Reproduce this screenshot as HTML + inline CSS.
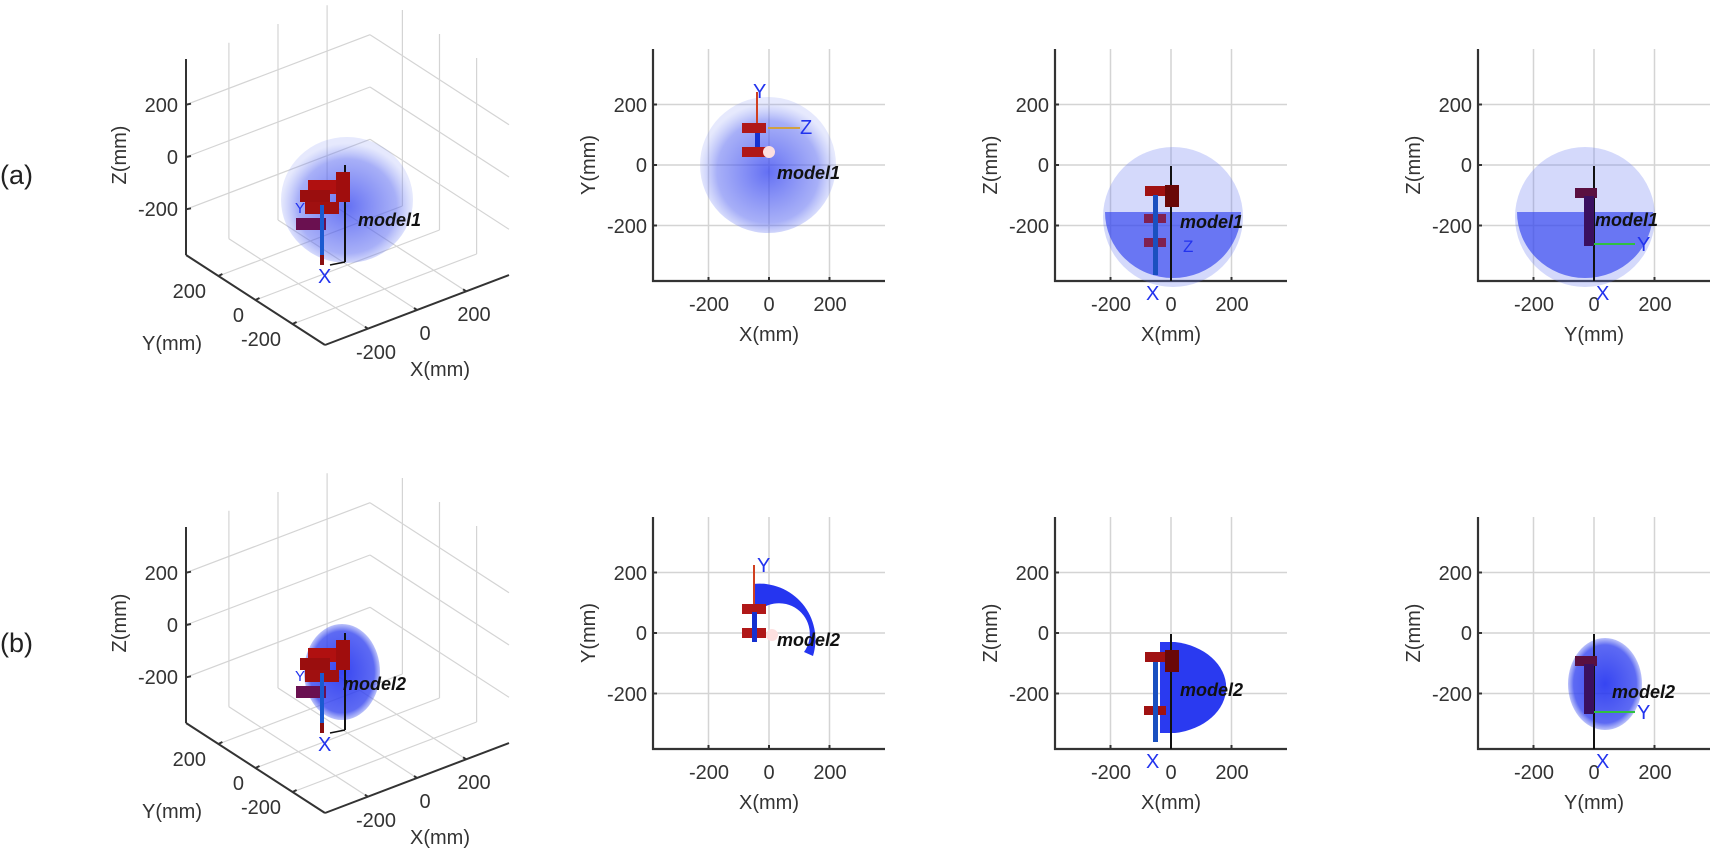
<!DOCTYPE html>
<html><head><meta charset="utf-8"><style>
html,body{margin:0;padding:0;background:#fff;}
svg{display:block;font-family:"Liberation Sans",Arial,sans-serif;}
</style></head><body>
<svg id="s" width="1711" height="855" viewBox="0 0 1711 855" xmlns="http://www.w3.org/2000/svg">
<defs>
<radialGradient id="ga" cx="50%" cy="55%" r="50%"><stop offset="0" stop-color="#3040f0" stop-opacity="0.75"/><stop offset="0.75" stop-color="#5060f0" stop-opacity="0.5"/><stop offset="1" stop-color="#8090f5" stop-opacity="0.2"/></radialGradient>
<radialGradient id="gb" cx="50%" cy="50%" r="50%"><stop offset="0" stop-color="#2030f0" stop-opacity="0.9"/><stop offset="0.85" stop-color="#3545f0" stop-opacity="0.8"/><stop offset="1" stop-color="#5565f0" stop-opacity="0.4"/></radialGradient>
</defs>
<text x="0" y="184" font-size="27" fill="#222">(a)</text>
<text x="0" y="652" font-size="27" fill="#222">(b)</text>
<g id="g"></g>
</svg>
<script>
var out='';
function L(x1,y1,x2,y2,c,w){out+='<line x1="'+x1.toFixed(1)+'" y1="'+y1.toFixed(1)+'" x2="'+x2.toFixed(1)+'" y2="'+y2.toFixed(1)+'" stroke="'+c+'" stroke-width="'+w+'"/>';}
function T(x,y,t,a,extra){out+='<text x="'+x+'" y="'+y+'" font-size="20" fill="#333" text-anchor="'+(a||'middle')+'" '+(extra||'')+'>'+t+'</text>';}
var G='#d4d4d4';
function p3(dy,x,y,z){var f=function(v){return (v+375)/750;};return [325+f(x)*184+f(y)*-139,345+dy+f(x)*-70+f(y)*-90+f(z)*-196];}
function panel3(dy){
 var lv=[-200,0,200];
 lv.forEach(function(v){
  var a=p3(dy,v,375,-375),b=p3(dy,v,375,375);L(a[0],a[1],b[0],b[1],G,1.2);
  a=p3(dy,375,v,-375);b=p3(dy,375,v,375);L(a[0],a[1],b[0],b[1],G,1.2);
  a=p3(dy,-375,375,v);b=p3(dy,375,375,v);L(a[0],a[1],b[0],b[1],G,1.2);
  a=p3(dy,375,-375,v);b=p3(dy,375,375,v);L(a[0],a[1],b[0],b[1],G,1.2);
  a=p3(dy,v,-375,-375);b=p3(dy,v,375,-375);L(a[0],a[1],b[0],b[1],G,1.2);
  a=p3(dy,-375,v,-375);b=p3(dy,375,v,-375);L(a[0],a[1],b[0],b[1],G,1.2);
 });
 var a=p3(dy,-375,375,-375),b=p3(dy,-375,375,375);L(a[0],a[1],b[0],b[1],'#333',2);
 b=p3(dy,-375,-375,-375);L(a[0],a[1],b[0],b[1],'#333',2);
 a=p3(dy,375,-375,-375);L(a[0],a[1],b[0],b[1],'#333',2);
 lv.forEach(function(v){
  var q=p3(dy,-375,375,v);L(q[0],q[1],q[0]+5,q[1]-1,'#333',2);
  T(178,(q[1]+7).toFixed(0),v,'end');
  q=p3(dy,-375,v,-375);L(q[0],q[1],q[0]+4,q[1]-2,'#333',2);
  T((q[0]-12).toFixed(0),(q[1]+22).toFixed(0),v,'end');
  q=p3(dy,v,-375,-375);L(q[0],q[1],q[0]-3,q[1]-2,'#333',2);
  T((q[0]+8).toFixed(0),(q[1]+30).toFixed(0),v,'middle');
 });
 T(126,155+dy,'Z(mm)','middle','transform="rotate(-90 126 '+(155+dy)+')"');
 T(172,350+dy,'Y(mm)','middle');
 T(440,376+dy,'X(mm)','middle');
}
function panel2(x0,dy,xl,yl){
 var left=x0-116,right=x0+116,zy=165+dy,top=zy-116,bot=zy+116;
 [-200,0,200].forEach(function(v){
  var px=x0+v*0.3025;L(px,top,px,bot,G,1.5);
  var py=zy-v*0.3025;L(left,py,right,py,G,1.5);
  L(px,bot,px,bot-4,'#333',2);L(left,py,left+4,py,'#333',2);
  T(px.toFixed(0),bot+30,v,'middle');T(left-6,(py+7).toFixed(0),v,'end');
 });
 L(left,top,left,bot+1,'#333',2.2);L(left-1,bot,right,bot,'#333',2.2);
 T(x0,bot+60,xl,'middle');
 T(left-58,zy,yl,'middle','transform="rotate(-90 '+(left-58)+' '+zy+')"');
}
function lab(x,y,t){out+='<text x="'+x+'" y="'+y+'" font-size="18" font-weight="bold" font-style="italic" fill="#111">'+t+'</text>';}
function R(x,y,w,h,c){out+='<rect x="'+x+'" y="'+y+'" width="'+w+'" height="'+h+'" fill="'+c+'"/>';}
function blueT(x,y,t,s){out+='<text x="'+x+'" y="'+y+'" font-size="'+(s||20)+'" fill="#2233ee">'+t+'</text>';}
panel3(0);panel3(468);
panel2(769,0,'X(mm)','Y(mm)');panel2(1171,0,'X(mm)','Z(mm)');panel2(1594,0,'Y(mm)','Z(mm)');
panel2(769,468,'X(mm)','Y(mm)');panel2(1171,468,'X(mm)','Z(mm)');panel2(1594,468,'Y(mm)','Z(mm)');
// clouds row a
out+='<ellipse cx="347" cy="200" rx="66" ry="63" fill="url(#ga)"/>';
out+='<circle cx="768" cy="165" r="68" fill="url(#ga)"/>';
[[1173,0],[1585,0]].forEach(function(c){
 out+='<circle cx="'+c[0]+'" cy="217" r="70" fill="#6575f2" opacity="0.28"/>';
 out+='<path d="M'+(c[0]-68)+' 212 L'+(c[0]+68)+' 212 A68 66 0 0 1 '+(c[0]-68)+' 212Z" fill="#3040ee" opacity="0.65"/>';
});
// clouds row b
out+='<ellipse cx="342" cy="672" rx="38" ry="48" fill="url(#gb)"/>';
out+='<path d="M753 584 A56 56 0 0 1 813 656 L804 652 A30 30 0 0 0 754 616Z" fill="#2535f0"/>';
out+='<path d="M1160 642 L1175 642 A60 46 0 0 1 1175 733 L1160 733Z" fill="#2a3af0"/>';
out+='<ellipse cx="1605" cy="684" rx="37" ry="46" fill="url(#gb)"/>';
// robots 3D
[0,468].forEach(function(dy){
 L(345,165+dy,345,262+dy,'#111',2);L(345,262+dy,330,265+dy,'#111',1.5);
 R(308,180+dy,42,14,'#b01010');R(336,172+dy,14,30,'#a00d0d');R(300,190+dy,30,12,'#9a0e0e');R(305,202+dy,34,12,'#a01010');
 R(296,218+dy,30,12,'#6a1050');R(320,205+dy,4,55,'#1a5ad0');
 R(320,255+dy,4,10,'#8a1010');
 blueT(318,283+dy,'X',20);blueT(295,213+dy,'Y',15);
});
lab(358,226,'model1');lab(343,690,'model2');
// 2D robots row a
L(757,92,757,150,'#d04020',2);R(742,123,24,10,'#b01818');R(742,147,24,10,'#b01818');R(755,133,5,14,'#1530d0');
out+='<circle cx="769" cy="152" r="6" fill="#fde0e0"/>';L(768,128,800,128,'#d0a040',2);
blueT(753,98,'Y');blueT(800,134,'Z');lab(777,179,'model1');
L(1171,166,1171,281,'#111',2);R(1145,186,22,10,'#a01212');R(1165,185,14,22,'#6a0808');R(1144,214,22,9,'#802050');R(1144,238,22,9,'#802050');R(1153,195,5,80,'#1a50c0');
blueT(1146,300,'X');blueT(1183,252,'Z',17);lab(1180,228,'model1');
L(1594,166,1594,281,'#111',2);R(1575,188,22,10,'#5a1040');R(1584,196,10,50,'#3a1060');L(1594,244,1635,244,'#30c040',2);
blueT(1596,300,'X');blueT(1637,251,'Y');lab(1595,226,'model1');
// 2D robots row b
L(754,565,754,620,'#d04020',2);R(742,604,24,10,'#b01818');R(742,628,24,10,'#b01818');R(752,612,5,30,'#1530d0');
out+='<circle cx="772" cy="635" r="6" fill="#fde0e0"/>';blueT(757,572,'Y');lab(777,646,'model2');
L(1171,634,1171,749,'#111',2);R(1145,652,22,10,'#a01212');R(1165,650,14,22,'#6a0808');R(1144,706,22,9,'#a01212');R(1153,662,5,80,'#1a50c0');
blueT(1146,768,'X');lab(1180,696,'model2');
L(1594,634,1594,749,'#111',2);R(1575,656,22,10,'#5a1040');R(1584,664,10,50,'#3a1060');L(1594,712,1635,712,'#30c040',2);
blueT(1596,768,'X');blueT(1637,719,'Y');lab(1612,698,'model2');
document.getElementById('g').innerHTML=out;
</script>
</body></html>
